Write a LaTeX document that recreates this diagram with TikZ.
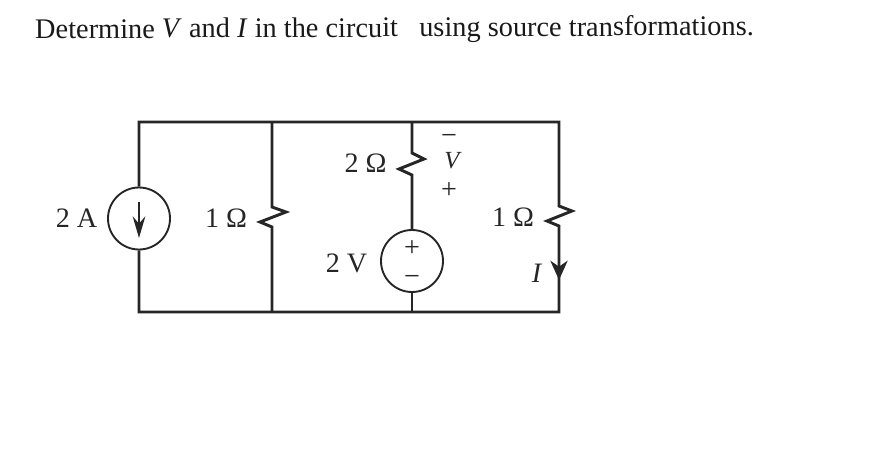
\documentclass[tikz,border=0pt]{standalone}
\usepackage{fontspec}
\setmainfont{Liberation Serif}
\usetikzlibrary{arrows.meta}

\tikzset{
	wire/.style={line width=2.5pt, line join=miter, color=black!85},
	source/.style={circle, draw=black!85, line width=1.6pt, minimum size=1.86cm, inner sep=0pt},
	label/.style={font=\fontsize{24}{26}\selectfont, color=black!85, inner sep=0pt},
	title/.style={font=\fontsize{24.2}{28}\selectfont, color=black!90, inner sep=0pt, anchor=base west, rotate=0.25}
}

\begin{document}
\begin{tikzpicture}[x=0.03cm, y=-0.03cm]

	\useasboundingbox (0,0) rectangle (876,464);

	\node[title] (heading) at (35,38.5) {Determine \textit{V} and \textit{I} in the circuit\hspace{0.75em}using source transformations.};

	% corners of the mesh
	\coordinate (topleft) at (139,122);
	\coordinate (topmid) at (272,122);
	\coordinate (topvs) at (412,122);
	\coordinate (topright) at (559,122);
	\coordinate (botleft) at (139,312);
	\coordinate (botmid) at (272,312);
	\coordinate (botvs) at (412,312);
	\coordinate (botright) at (559,312);

	\node[source] (isrc) at (139,218.5) {};
	\node[source] (vsrc) at (412,261) {};

	\draw[wire] (isrc.north) -- (topleft) -- (topright) -- (559,206) -- ++(13,5) -- ++(-25,10) -- ++(12,5) -- (botright) -- (botleft) -- (isrc.south);
	\draw[wire] (topmid) -- (272,207) -- ++(14,5) -- ++(-26,10) -- ++(12,5) -- (botmid);
	\draw[wire] (topvs) -- (412,153) -- ++(12,6) -- ++(-25,10) -- ++(13,6) -- (vsrc.north);
	\draw[wire] (vsrc.south) -- (botvs);

	% arrows
	\coordinate (isrctail) at (139,202);
	\coordinate (isrctip) at (139,238);
	\draw[line width=1.3pt, color=black!85, -{Stealth[length=6.5mm, width=3.8mm, inset=2.2mm]}] (isrctail) -- (isrctip);
	\coordinate (itail) at (559,255);
	\coordinate (itip) at (559,280);
	\draw[line width=1.5pt, color=black!85, -{Stealth[length=5.8mm, width=5.2mm, inset=1.8mm]}] (itail) -- (itip);

	% values
	\node[label] (lisrc) at (76.5,218) {2 A};
	\node[label] (lrone) at (226,218) {1 Ω};
	\node[label] (lrtwo) at (365.5,163) {2 Ω};
	\node[label] (lrthree) at (513,217) {1 Ω};
	\node[label] (lvsrc) at (346.5,263) {2 V};
	\node[label] (lcurr) at (537,273) {\textit{I}};

	% polarity
	\node[label] (vminus) at (449,139) {\textminus};
	\node[label, font=\fontsize{21}{24}\selectfont] (vlabel) at (453,161) {\textit{V}};
	\node[label] (vplus) at (449,191) {+};
	\node[label] (srcplus) at (412,249) {+};
	\node[label] (srcminus) at (412,280) {\textminus};

\end{tikzpicture}
\end{document}
